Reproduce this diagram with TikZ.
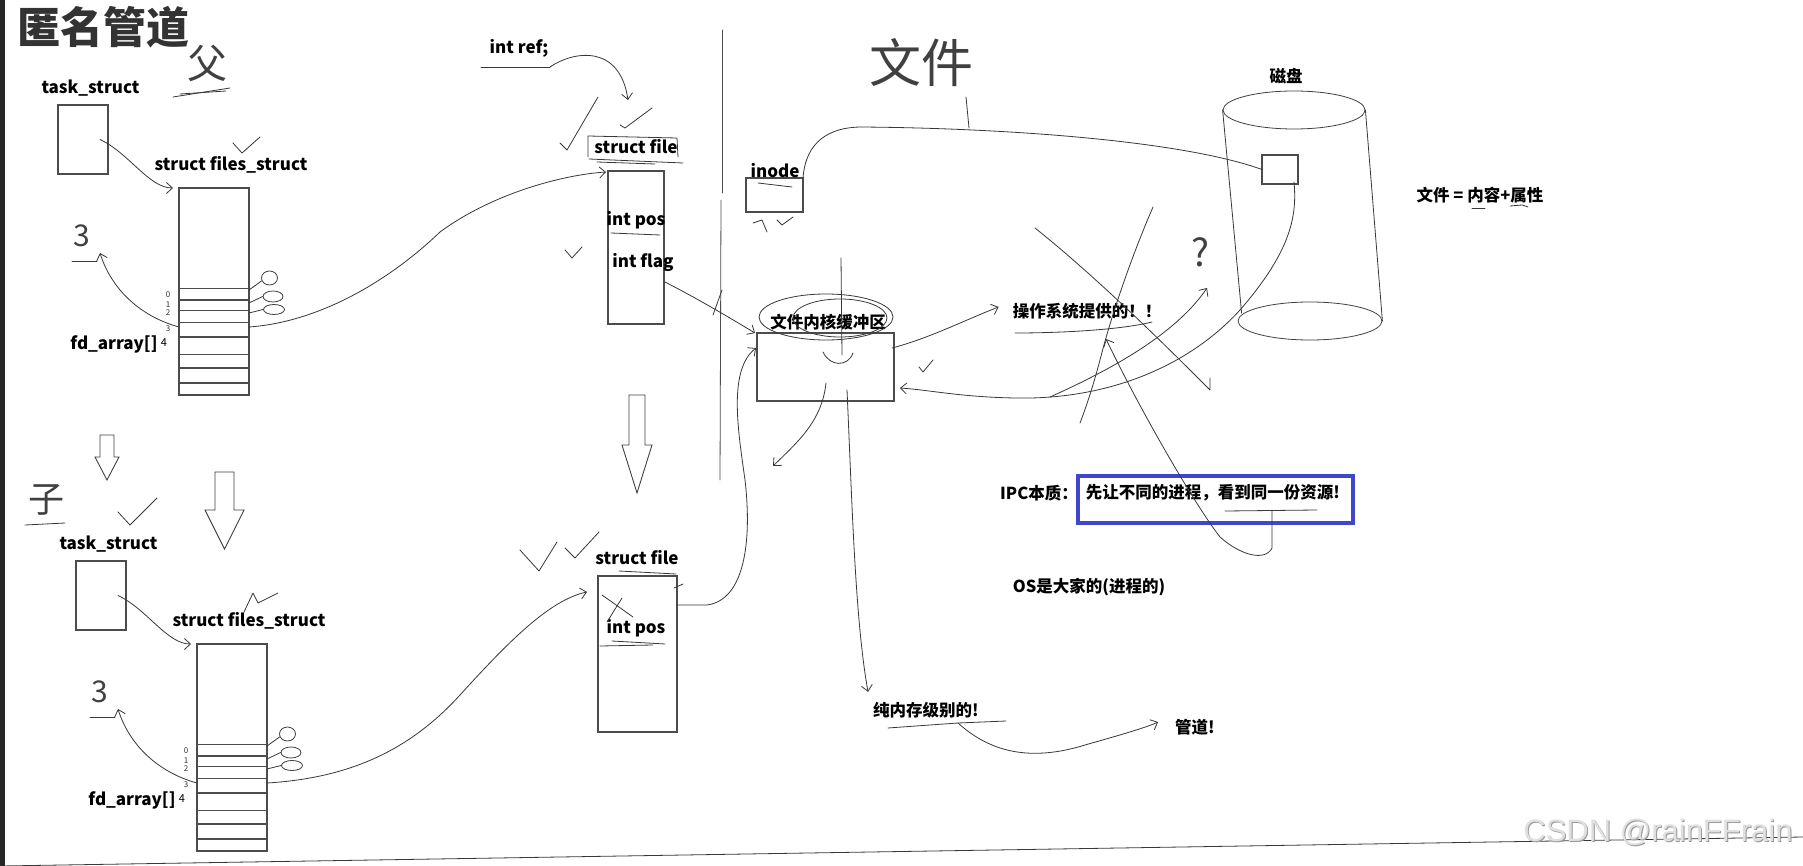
\documentclass[tikz,border=0pt]{standalone}
\usepackage{fontspec}
\setmainfont{Noto Sans CJK SC}
\newfontfamily\wmfont{Liberation Sans}
\usetikzlibrary{arrows.meta, positioning, shapes.geometric, calc}

\definecolor{ipcblue}{RGB}{63,72,204}

\tikzset{
  box/.style={draw=black!70, line width=1.1pt, inner sep=0pt, outer sep=0pt},
  lbl/.style={font=\fontsize{17}{19}\selectfont\bfseries, inner sep=0pt},
  zh/.style={font=\fontsize{16.5}{18}\selectfont\bfseries, inner sep=0pt},
  pen/.style={draw=black!78, line width=0.8pt, line cap=round, line join=round},
  barb/.style={-{Straight Barb[length=6pt,width=11pt]}},
  ring/.style={ellipse, draw=black!75, line width=0.8pt, inner sep=0pt},
  idx/.style={font=\fontsize{8}{8}\selectfont, inner sep=0pt, text=black!80},
  hand/.style={font=\fontsize{#1}{#1}\selectfont, inner sep=0pt, text=black!75},
  blockarrow/.style={draw=black!75, line width=0.9pt, fill=white},
}

\begin{document}
\begin{tikzpicture}[x=1pt, y=-1pt]
\fill[white] (0,0) rectangle (1803,866);
\useasboundingbox (0,0) rectangle (1803,866);
\fill[black!85] (0,0) rectangle (5,866);

\node[font=\fontsize{43}{43}\selectfont\bfseries, text=black!80, inner sep=0pt] (title) at (103,27) {匿名管道};

% parent and child process
\foreach \who/\fx/\fy in {p/179/188, c/197/644} {
  \node[box, minimum width=50, minimum height=69, anchor=north west] (\who-task) at (\fx-121,\fy-83) {};
  \node[lbl] at (\fx-88.5,\fy-99.5) {task\_struct};
  \node[box, minimum width=70, minimum height=207, anchor=north west] (\who-files) at (\fx,\fy) {};
  \node[lbl] at (\fx+52,\fy-23.5) {struct files\_struct};
  \node[lbl] at (\fx-65,\fy+156) {fd\_array[]};
  \foreach \r in {100.5,112,122.5,134.5,149,166.5,180,195}
    \draw[box] (\fx,\fy+\r) -- (\fx+70,\fy+\r);
  \foreach \i/\o in {0/107,1/117,2/125,3/141}
    \node[idx] at (\fx-11,\fy+\o) {\i};
  \node[font=\fontsize{11}{11}\selectfont, inner sep=0pt] at (\fx-15,\fy+155) {4};
  % open files
  \node[ring, minimum width=16, minimum height=14] (\who-fd0) at (\fx+90.5,\fy+90) {};
  \node[ring, minimum width=20, minimum height=11] (\who-fd1) at (\fx+94,\fy+108.5) {};
  \node[ring, minimum width=21, minimum height=10] (\who-fd2) at (\fx+95,\fy+121.5) {};
  \draw[pen] (\fx+70,\fy+102) -- (\who-fd0.200);
  \draw[pen] (\fx+70,\fy+115) -- (\who-fd1.west);
  \draw[pen] (\fx+70,\fy+125) -- (\who-fd2.west);
  \draw[pen, barb] ($(\who-task.center)+(17,0)$) .. controls (\fx-50,\fy-35) and (\fx-30,\fy) .. (\fx-6,\fy);
  \draw[pen, barb] (\fx,\fy+139) .. controls (\fx-40,\fy+128) and (\fx-68,\fy+100) .. (\fx-79,\fy+65);
  \node[hand=30] at (\fx-97,\fy+48) {3};
  \draw[pen] (\fx-107,\fy+73) -- (\fx-82,\fy+73);
}

% hand notes, left
\node[hand=40] (fu) at (207,64) {父};
\draw[pen] (173,97) -- (230,88);
\draw[pen] (180,94) -- (226,91);
\node[hand=36] (zi) at (46,500) {子};
\draw[pen] (25,525) -- (65,523);
\draw[pen] (233,143) -- (242,153) -- (260,137);
\draw[pen] (118,512) -- (130,525) -- (157,498);
\draw[pen] (244,612) -- (253,593) -- (258,603) -- (278,593);

% fork arrows
\draw[blockarrow] (100,435) -- (100,457) -- (95,457) -- (107,480) -- (119,457) -- (114,457) -- (114,435) -- cycle;
\draw[blockarrow] (215,472) -- (215,510) -- (205,510) -- (224.5,549) -- (244,510) -- (234,510) -- (234,472) -- cycle;
\draw[blockarrow] (629,395) -- (629,445) -- (622,445) -- (637,493) -- (652,445) -- (645,445) -- (645,395) -- cycle;

% struct file (parent)
\node[lbl] (iref) at (519,48) {int ref;};
\draw[pen] (481,67) -- (550,67);
\draw[pen, barb] (550,67) .. controls (575,50) and (620,45) .. (628,100);
\node[lbl] (sflbl1) at (636,147) {struct file};
\draw[pen] (588,157) -- (588,136) -- (677,138) -- (678,157);
\draw[pen] (589,159) -- (683,163);
\draw[pen] (597,162) -- (655,164);
\node[box, minimum width=56, minimum height=153, anchor=north west] (sf1) at (608,171) {};
\node[lbl] (ipos1) at (636,220) {int pos};
\draw[pen] (611,233) -- (660,235);
\node[lbl] (iflag) at (643,262) {int flag};
\draw[pen] (560,143) -- (567,150) -- (598,97);
\draw[pen] (620,125) -- (625,128) -- (652,108);
\draw[pen] (565,250) -- (572,258) -- (582,247);

% struct file (child)
\node[lbl] (sflbl2) at (637,558) {struct file};
\draw[pen] (619,571) -- (676,574);
\node[box, minimum width=79, minimum height=156, anchor=north west] (sf2) at (598,576) {};
\node[lbl] (ipos2) at (636,628) {int pos};
\draw[pen] (602,595) -- (633,617);
\draw[pen] (622,598) -- (607,622);
\draw[pen] (600,646) -- (653,645);
\draw[pen] (612,641) -- (665,644);
\draw[pen] (674,588) -- (683,584);
\draw[pen] (520,550) -- (539,571) -- (557,542);
\draw[pen] (565,548) -- (575,558) -- (599,532);

% fd -> struct file
\draw[pen, barb] ($(p-files.north east)+(0,139)$) .. controls (320,322) and (390,280) .. (440,232) .. controls (490,195) and (560,175) .. ($(sf1.north west)+(-2,1)$);
\draw[pen, barb] ($(c-files.north east)+(0,139)$) .. controls (350,778) and (410,750) .. (460,695) .. controls (510,640) and (550,600) .. ($(sf2.north west)+(-11,16)$);

% divider
\draw[pen, black!70] (722,30) -- (722,193);
\draw[pen, black!70] (721,200) -- (720,480);
\draw[pen] (713,315) -- (722,290);

% kernel side
\node[box, minimum width=57, minimum height=34, anchor=north west] (inode) at (746,178) {};
\node[lbl] (inodelbl) at (775,171) {inode};
\draw[pen] (758,183) -- (792,187);
\draw[pen] (753,223) -- (762,220) -- (767,232);
\draw[pen] (777,220) -- (782,225) -- (793,217);
\node[hand=52] (wenjian) at (921,63) {文件};
\draw[pen] (966,97) -- (969,128);

\node[box, minimum width=137, minimum height=68, anchor=north west] (kbuf) at (757,333) {};
\node[zh] (kbuflbl) at (828,322) {文件内核缓冲区};
\draw[pen] (826,317) ellipse [x radius=67, y radius=23];
\draw[pen] (840,318) ellipse [x radius=47, y radius=19];
\draw[pen] (841,258) -- (842,355);
\draw[pen] (823,352) .. controls (830,367) and (848,367) .. (853,353);
\draw[pen] (919,367) -- (923,372) -- (933,360);

\draw[pen, barb] ($(sf1.north east)+(1,111)$) .. controls (700,300) and (730,318) .. ($(kbuf.north west)+(-2,0)$);
\draw[pen, barb] ($(sf2.north east)+(0,29)$) -- (707,605) .. controls (745,600) and (752,540) .. (745,480) .. controls (738,430) and (728,370) .. ($(kbuf.west)+(-1,-19)$);
\draw[pen, barb] (826,383) .. controls (822,420) and (800,440) .. (773,466);

\node[zh] (mem) at (926,710) {纯内存级别的!};
\draw[pen, barb] (847,390) .. controls (852,500) and (855,620) .. ($(mem.north west)+(-5,-10)$);
\draw[pen] (888,728) -- (958,723) -- (1006,721);
\node[zh] (pipe) at (1195,727) {管道!};
\draw[pen, barb] (958,723) .. controls (990,752) and (1030,762) .. (1085,745) .. controls (1120,735) and (1145,728) .. ($(pipe.west)+(-17,-5)$);

\node[zh] (os) at (1087,311) {操作系统提供的！！};
\draw[pen, barb] ($(kbuf.east)+(-2,-19)$) .. controls (930,338) and (965,320) .. ($(os.west)+(-14,-4)$);
\draw[pen] (1015,333) .. controls (1060,333) and (1120,330) .. (1152,322);

% disk
\node[zh] (disklbl) at (1286,76) {磁盘};
\node[ring, minimum width=142, minimum height=38] (disktop) at (1294,110) {};
\node[ring, minimum width=144, minimum height=38] (diskbot) at (1310,321) {};
\draw[pen] (disktop.west) -- ($(diskbot.west)+(4,-8)$);
\draw[pen] (disktop.east) -- (diskbot.east);
\node[box, minimum width=36, minimum height=29, anchor=north west] (blk) at (1262,155) {};
\draw[pen] (inode.north east) .. controls (805,150) and (820,128) .. (860,127) .. controls (1000,128) and (1180,140) .. (blk.west);
\draw[pen, barb] ($(blk.south east)+(-4,-2)$) .. controls (1297,215) and (1292,250) .. (1240,310) .. controls (1190,365) and (1110,400) .. (1015,398) .. controls (960,397) and (930,390) .. ($(kbuf.east)+(6,21)$);

\node[hand=38] (qm) at (1200,252) {?};
\coordinate (fork) at (1050,397);
\coordinate (qtip) at (1207,288);
\draw[pen, barb] (fork) .. controls (1110,370) and (1175,335) .. (qtip);

\draw[pen] (1035,228) .. controls (1100,280) and (1170,350) .. (1210,390) -- (1210,378);
\draw[pen] (1153,207) .. controls (1130,260) and (1110,320) .. (1100,360) .. controls (1092,390) and (1085,410) .. (1080,423);

\node[zh] (filedef) at (1480,195) {文件 = 内容+属性};
\draw[pen] (1472,208) -- (1485,208);
\draw[pen] (1510,206) -- (1522,205) -- (1528,207);

% IPC
\node[draw=ipcblue, line width=3.5pt, minimum width=275, minimum height=47, anchor=north west, inner sep=0pt] (ipcbox) at (1076,474) {};
\node[zh] (ipctext) at (1213,493) {先让不同的进程，看到同一份资源!};
\node[zh, anchor=east] (ipc) at (1078,493) {IPC本质：};
\draw[pen] (1225,511) -- (1317,510);
\draw[pen, barb] (1272,510) -- (1272,548) .. controls (1265,562) and (1240,555) .. (1220,537) .. controls (1195,505) and (1140,410) .. (1106,339);

\node[zh] (osall) at (1089,587) {OS是大家的(进程的)};

\draw[pen] (0,866) -- (1803,837);
\node[font=\wmfont\fontsize{31}{31}\selectfont, text=black!40] at (1659,833) {CSDN @rainFFrain};
\node[font=\wmfont\fontsize{31}{31}\selectfont, text=white!88!black] (wm) at (1658,832) {CSDN @rainFFrain};
\end{tikzpicture}
\end{document}
